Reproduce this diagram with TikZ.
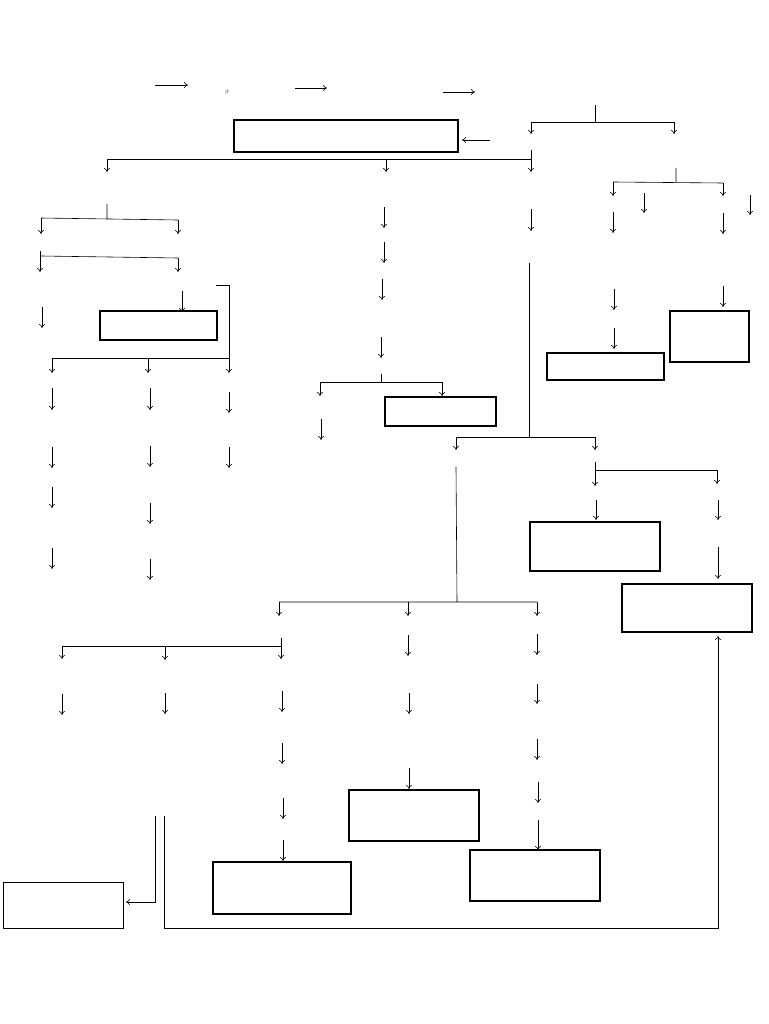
\documentclass[tikz,border=0pt]{standalone}
\usetikzlibrary{arrows.meta}
\begin{document}
\begin{tikzpicture}[x=1pt,y=-1pt,
 ar/.style={-{To[length=4pt,width=6pt]},line width=0.6pt},
 ln/.style={line width=0.6pt},
 bx/.style={draw,line width=1.4pt},
 tbx/.style={draw,line width=0.6pt}]
\useasboundingbox (0,0) rectangle (768,1024);
\def\A(#1,#2,#3){\draw[ar] (#1,#2) -- (#1,#3);}
% top arrows
\draw[ar] (155,85) -- (188,85);
\draw[ar] (295,88) -- (327,88);
\draw[ar] (443,92) -- (475,92);
\node[font=\tiny] (beta) at (227,92) {$\beta$};
% boxes
\draw[bx] (234,120) rectangle (458,152);
\draw[bx] (547,353) rectangle (664,380);
\draw[bx] (670,311) rectangle (749,362);
\draw[bx] (100,311) rectangle (217,340);
\draw[bx] (385,397) rectangle (496,426);
\draw[bx] (530,522) rectangle (660,571);
\draw[bx] (622,584) rectangle (752,632);
\draw[bx] (470,850) rectangle (600,901);
\draw[bx] (213,862) rectangle (351,914);
\draw[bx] (349,790) rectangle (479,841);
\draw[tbx] (3,882) rectangle (123,928);
\draw[ar] (490,140) -- (462,140);
% top right bracket
\draw[ln] (595,105) -- (595,122) (531,122) -- (674,122);
\A(531,122,134) \A(674,122,134)
% main split
\draw[ln] (531,150) -- (531,159) (107,159) -- (531,159);
\A(107,159,172) \A(386,159,172) \A(531,159,172)
% right column
\draw[ln] (676,168) -- (676,182) (613,182) -- (723,183);
\A(613,182,196) \A(723,183,196) \A(644,193,213) \A(750,195,215)
\A(613,212,233) \A(723,213,234) \A(614,289,310) \A(723,286,307) \A(614,328,349)
% middle column
\A(384,207,228) \A(384,242,263) \A(382,279,300) \A(381,337,358)
\draw[ln] (381,374) -- (381,382) (320,382) -- (442,382);
\A(320,382,396) \A(442,382,396) \A(321,419,440)
\A(531,209,231)
\draw[ln] (529,263) -- (529,437) (456,437) -- (595,437);
\A(456,437,450) \A(595,437,450)
\draw[ln] (595,462) -- (595,470) (595,470) -- (717,470);
\A(595,470,486) \A(717,470,484) \A(596,500,520) \A(718,500,520) \A(718,547,579)
\draw[ln] (456,467) -- (457,602) (279,602) -- (537,602);
\A(279,602,616) \A(408,602,616) \A(537,602,616)
\A(408,635,656) \A(537,634,655) \A(537,684,704) \A(537,739,760) \A(538,782,803) \A(538,820,850)
% lower left
\draw[ln] (62,646) -- (281,646);
\A(62,646,659) \A(165,646,660) \A(281,638,659)
\A(62,694,715) \A(165,693,714) \A(282,691,712) \A(282,743,764) \A(283,798,819) \A(283,840,861)
\A(409,693,714) \A(409,768,789)
% bottom lines
\draw[ar] (155,816) -- (155,902) -- (126,902);
\draw[ar] (164,816) -- (164,928) -- (718,928) -- (718,636);
% left top
\draw[ln] (107,204) -- (107,219) (41,218) -- (178,220);
\A(41,218,234) \A(178,220,234)
\draw[ln] (41,256) -- (178,258);
\A(40,251,272) \A(178,258,272) \A(42,307,328) \A(182,291,312)
\draw[ln] (216,285) -- (229,285) -- (229,358) (52,358) -- (229,358);
\A(52,358,373) \A(148,358,373) \A(229,358,373)
\A(52,388,410) \A(52,447,468) \A(52,487,508) \A(52,548,569)
\A(150,388,410) \A(150,446,467) \A(150,503,524) \A(150,559,580)
\A(229,392,413) \A(229,447,468)
\end{tikzpicture}
\end{document}
